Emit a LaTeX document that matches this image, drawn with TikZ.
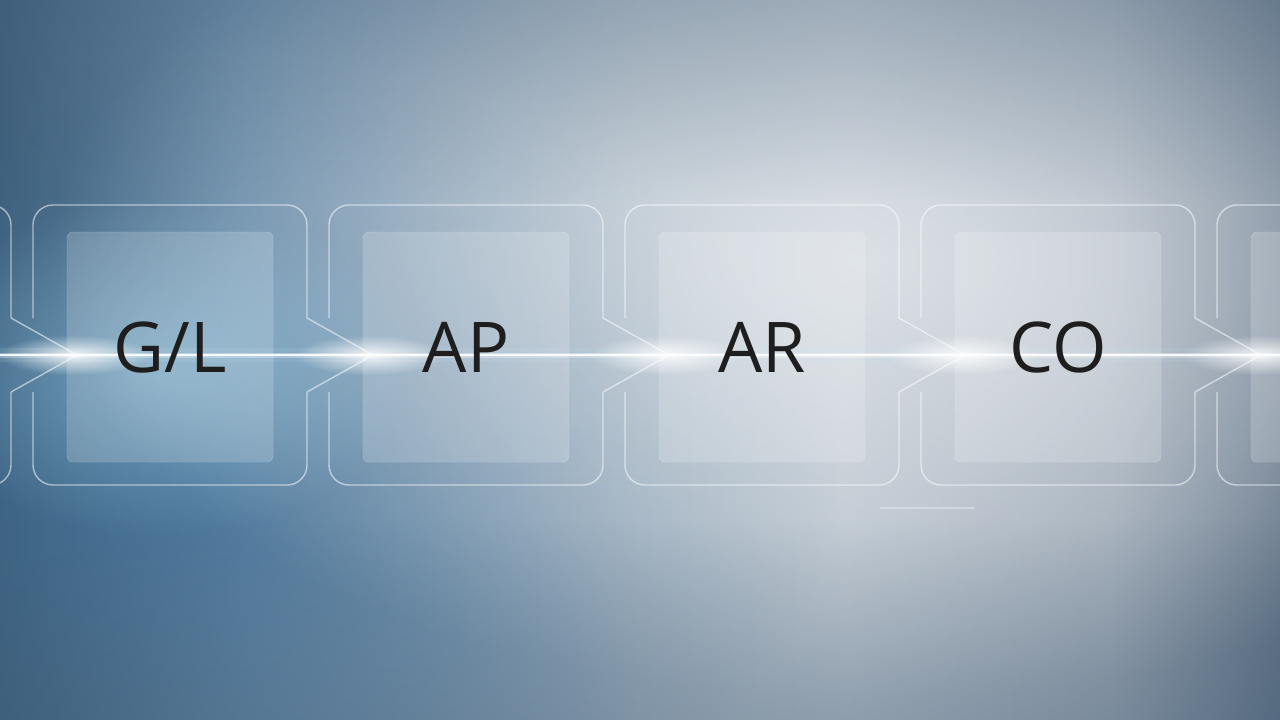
\documentclass[tikz,border=0pt]{standalone}
\usepackage{fontspec}
\setmainfont{Open Sans}
\usetikzlibrary{positioning,fadings}
\definecolor{bglight}{HTML}{E8ECF0}
\definecolor{bgdeep}{HTML}{3A6A92}
\definecolor{bgshade}{HTML}{3F5A74}
\definecolor{glowblue}{HTML}{BFE6FA}
\definecolor{glowcyan}{HTML}{A8DCF2}
\definecolor{labelgrey}{HTML}{1E1E1E}
\definecolor{bga}{HTML}{3F5F7A}
\definecolor{bgb}{HTML}{6F90AC}
\definecolor{bgc}{HTML}{A8B6C2}
\definecolor{bgd}{HTML}{B6C0CA}
\definecolor{bge}{HTML}{98A4B1}
\definecolor{bgf}{HTML}{5E7084}
\pgfdeclarehorizontalshading{backdrop}{100bp}{
  color(0bp)=(bga); color(25bp)=(bga); color(34.8bp)=(bgb);
  color(50bp)=(bgc); color(58bp)=(bgd); color(68bp)=(bge);
  color(75bp)=(bgf); color(100bp)=(bgf)}
\tikzfading[name=softglow, inner color=transparent!0, outer color=transparent!100]
\tikzfading[name=fadedown, top color=transparent!0, bottom color=transparent!100]
\tikzfading[name=fadeup, top color=transparent!100, bottom color=transparent!0]
\pgfdeclarelayer{back}
\pgfdeclarelayer{glow}
\pgfsetlayers{back,glow,main}

\begin{document}
\begin{tikzpicture}[
  x=1pt, y=-1pt,
  node distance=90pt,
  procnode/.style={draw=white, draw opacity=0.3, fill=white, fill opacity=0.18, text opacity=1,
    rounded corners=6pt, minimum width=206pt, minimum height=230pt, inner sep=0pt, outer sep=0pt,
    text height=51pt, text depth=0pt, font=\fontsize{70}{70}\selectfont, text=labelgrey},
  frameline/.style={draw=white, draw opacity=0.55, line width=1.4pt, rounded corners=20pt},
  glowwide/.style={draw=glowblue, draw opacity=0.12, line width=14pt},
  glowmid/.style={draw=white, draw opacity=0.3, line width=5pt},
  glowcore/.style={draw=white, draw opacity=0.9, line width=1.8pt}
]
\useasboundingbox (0,0) rectangle (1280,720);
\clip (0,0) rectangle (1280,720);
\node[procnode] (gl) at (170,347) {G/L};
\node[procnode, left=of gl] (prev) {};
\node[procnode, right=of gl] (ap) {AP};
\node[procnode, right=of ap] (ar) {AR};
\node[procnode, right=of ar] (co) {CO};
\node[procnode, right=of co] (next) {};
\coordinate (lw) at (-20,355);
\coordinate (le) at (1300,355);
% background
\begin{pgfonlayer}{back}
\shade[shading=backdrop] (-10,-10) rectangle (1290,730);
\fill[bgdeep, path fading=softglow, fill opacity=0.6] (200,480) ellipse (640 and 420);
\fill[bglight, path fading=softglow, fill opacity=0.75] (870,260) ellipse (820 and 440);
\fill[bgshade, path fading=fadedown, fill opacity=0.3] (-10,-10) rectangle (1290,200);
\fill[bgshade, path fading=fadeup, fill opacity=0.35] (-10,520) rectangle (1290,730);
\end{pgfonlayer}
% light line
\begin{pgfonlayer}{glow}
\fill[glowcyan, path fading=softglow, fill opacity=0.45] ([shift={(-10,20)}]gl.center) ellipse (260 and 170);
\path (lw) edge[glowwide] (le)
(lw) edge[glowmid] (le)
(lw) edge[glowcore] (le);
\foreach \n in {prev,gl,ap,ar,co}
  \fill[white, path fading=softglow, fill opacity=0.85] ([shift={(200,8)}]\n.center) ellipse (75 and 20);
\end{pgfonlayer}
\foreach \n in {prev,gl,ap,ar,co,next}{
  \begin{scope}[shift={(\n.center)}]
    \draw[frameline] (137,-29) -- (137,-142) -- (-137,-142) -- (-137,-29);
    \draw[frameline] (137,45) -- (137,138) -- (-137,138) -- (-137,45);
    \draw[frameline, sharp corners] (137,-29) -- (203,8) -- (137,45);
  \end{scope}
}
\draw[white, draw opacity=0.3, line width=1.2pt] (880,508) -- (975,508);
\end{tikzpicture}
\end{document}
